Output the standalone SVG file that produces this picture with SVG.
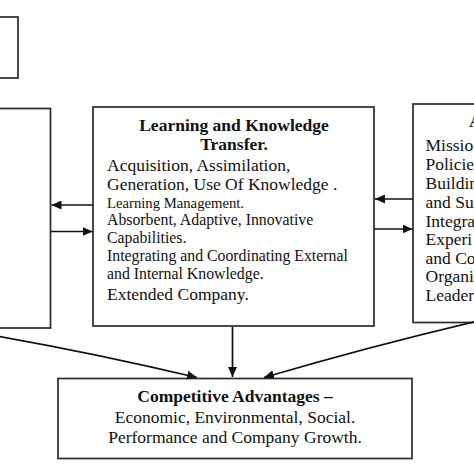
<svg xmlns="http://www.w3.org/2000/svg" width="474" height="474" viewBox="0 0 474 474">
<defs>
<style>
.box{fill:#fff;stroke:#2b2b2b;stroke-width:1.7}
.t{font-family:"Liberation Serif","Times New Roman",serif;fill:#111}
.b{font-weight:bold}
.l{font-size:17.5px}
.m{font-size:15.8px}
.s{font-size:14.7px}
.c{stroke:#111;stroke-width:1.7;fill:none}
</style>
<marker id="ah" viewBox="0 0 10 10" refX="10" refY="5" markerWidth="10" markerHeight="9" orient="auto" markerUnits="userSpaceOnUse" preserveAspectRatio="none">
<path d="M0,0 L10,5 L0,10 Z" fill="#111"/>
</marker>
</defs>
<rect width="474" height="474" fill="#fff"/>
<g id="node-topleft">
<rect class="box" x="-10" y="17" width="28" height="61"/>
</g>
<g id="node-left">
<rect class="box" x="-10" y="108.5" width="60.5" height="219.5"/>
</g>
<g id="node-center">
<rect class="box" x="93" y="107" width="281" height="219"/>
<text class="t b l" x="234" y="131" text-anchor="middle">Learning and Knowledge</text>
<text class="t b l" x="234" y="150" text-anchor="middle">Transfer.</text>
<text class="t l" x="107" y="171">Acquisition, Assimilation,</text>
<text class="t l" x="107" y="190">Generation, Use Of Knowledge .</text>
<text class="t s" x="107" y="207.5">Learning Management.</text>
<text class="t m" x="107" y="225">Absorbent, Adaptive, Innovative</text>
<text class="t m" x="107" y="243">Capabilities.</text>
<text class="t m" x="107" y="261">Integrating and Coordinating External</text>
<text class="t m" x="107" y="279">and Internal Knowledge.</text>
<text class="t l" x="107" y="300">Extended Company.</text>
</g>
<g id="node-right">
<rect class="box" x="413" y="104" width="80" height="218.5"/>
<text class="t b l" x="469" y="127">A</text>
<text class="t l" x="425.5" y="151">Missio</text>
<text class="t l" x="425.5" y="170">Policie</text>
<text class="t l" x="425.5" y="189">Buildin</text>
<text class="t l" x="425.5" y="207.5">and Su</text>
<text class="t l" x="425.5" y="226.5">Integra</text>
<text class="t l" x="425.5" y="245">Experi</text>
<text class="t l" x="425.5" y="263.5">and Co</text>
<text class="t l" x="425.5" y="282">Organi</text>
<text class="t l" x="425.5" y="300.5">Leader</text>
</g>
<g id="node-bottom">
<rect class="box" x="58" y="378.5" width="354" height="80"/>
<text class="t b l" x="235" y="402" text-anchor="middle">Competitive Advantages –</text>
<text class="t l" x="235" y="422.5" text-anchor="middle">Economic, Environmental, Social.</text>
<text class="t l" x="235" y="443" text-anchor="middle">Performance and Company Growth.</text>
</g>
<g id="connectors">
<line class="c" x1="93" y1="205" x2="51.5" y2="205" marker-end="url(#ah)"/>
<line class="c" x1="50.5" y1="231.5" x2="92.5" y2="231.5" marker-end="url(#ah)"/>
<line class="c" x1="413" y1="199" x2="375" y2="199" marker-end="url(#ah)"/>
<line class="c" x1="374" y1="229" x2="412.5" y2="229" marker-end="url(#ah)"/>
<line class="c" x1="232.5" y1="327" x2="232.5" y2="377" marker-end="url(#ah)"/>
<path class="c" d="M-20,333 Q90,352 197,377.5" marker-end="url(#ah)"/>
<path class="c" d="M490,318 Q370,346 264,377.5" marker-end="url(#ah)"/>
</g>
</svg>
